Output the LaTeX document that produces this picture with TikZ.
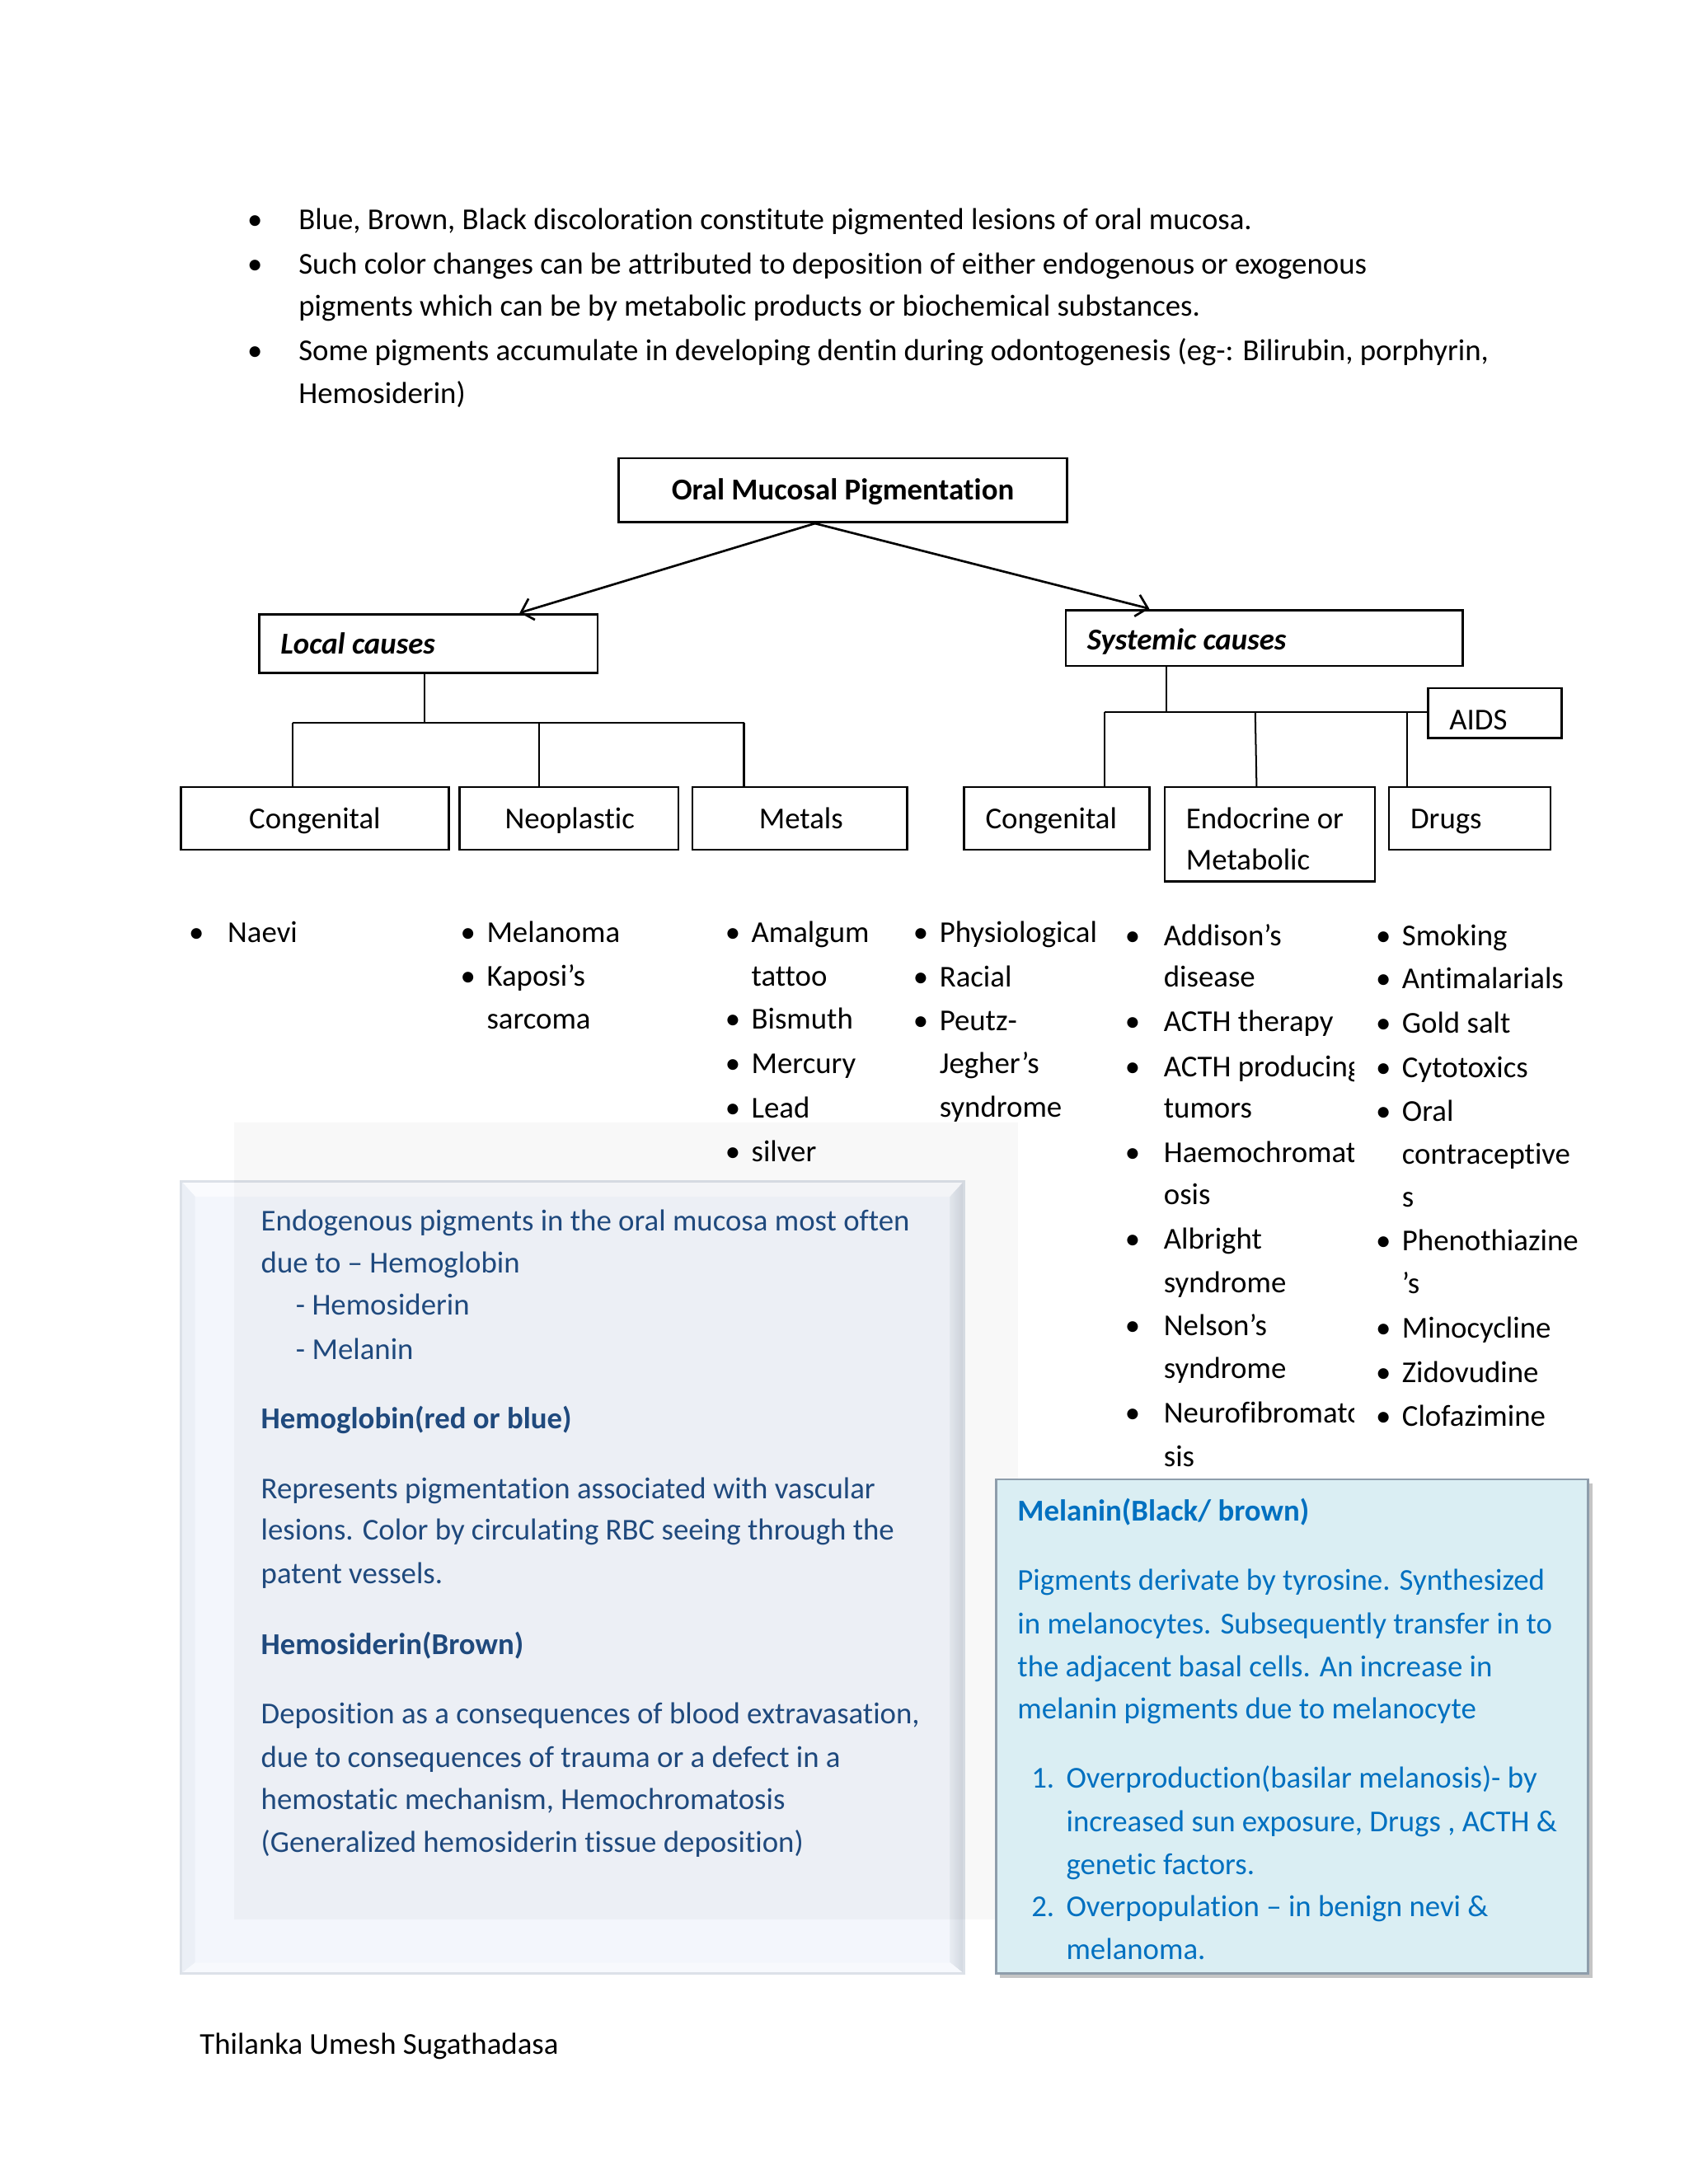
\documentclass[tikz,border=0pt]{standalone}
\usepackage{fontspec}
\setmainfont{Carlito}[RawFeature=-liga]
\usetikzlibrary{arrows.meta,fit}
\definecolor{boxblue}{HTML}{1F497D}
\definecolor{melblue}{HTML}{0070C0}
\definecolor{melfill}{HTML}{DAEEF3}
\definecolor{melline}{HTML}{8E9DAB}
\definecolor{lbfill}{HTML}{F3F6FC}
\definecolor{lbtop}{HTML}{FAFBFE}
\definecolor{lbleft}{HTML}{EBEFF6}
\definecolor{lbbot}{HTML}{F7F9FD}
\definecolor{lbr1}{HTML}{E8ECF2}
\definecolor{lbr2}{HTML}{D0D6DF}
\definecolor{lbedge}{HTML}{DCE1E8}
\newcommand\fs{\fontsize{11}{15.5}\selectfont}
\newcommand\T[4]{\node[txt] (#1) at (#2,#3) {#4};}
\newcommand\B[3]{\node[bul] (#1) at (#2,#3) {•};}
\tikzset{
  txt/.style={anchor=base west, inner sep=0pt, font=\fs, yshift=-0.9pt},
  bul/.style={anchor=base, inner sep=0pt, font=\fs, yshift=-0.9pt},
  boxst/.style={draw, line width=0.8pt, inner sep=0pt},
  conn/.style={line width=0.6pt},
  arr/.style={line width=0.8pt, -{Straight Barb[length=4pt,width=8pt,line width=0.8pt]}},
}
\begin{document}
\begin{tikzpicture}[x=0.50495pt,y=-0.50495pt]
\useasboundingbox (0,0) rectangle (1212,1568);
\fill[white] (0,0) rectangle (1212,1568);
% ---------- intro bullets
\B{b1}{183}{163}\T{t1}{214}{163}{Blue, Brown, Black discoloration constitute pigmented lesions of oral mucosa.}
\B{b2}{183}{195}\T{t2}{214}{195}{Such color changes can be attributed to deposition of either endogenous or exogenous}
\T{t2b}{214}{225}{pigments which can be by metabolic products or biochemical substances.}
\B{b3}{183}{257}\T{t3}{214}{257}{Some pigments accumulate in developing dentin during odontogenesis (eg-: Bilirubin, porphyrin,}
\T{t3b}{214}{288}{Hemosiderin)}
% ---------- diagram boxes
\node[boxst, fit={(444,329)(766,375)}] (root) {};
\node[inner sep=0pt, font=\fs\bfseries, yshift=-0.5pt] (roott) at (root.center) {Oral Mucosal Pigmentation};
\node[boxst, fit={(186,441)(429,483)}] (local) {};
\node[txt, font=\fs\bfseries\itshape] (localt) at (201,468) {Local causes};
\node[boxst, fit={(765,438)(1050,478)}] (sys) {};
\node[txt, font=\fs\bfseries\itshape] (syst) at (780,465) {Systemic causes};
\node[boxst, fit={(130,565)(322,610)}] (cong1) {};
\node[anchor=base, inner sep=0pt, font=\fs, yshift=-0.9pt] (cong1t) at (226,593) {Congenital};
\node[boxst, fit={(330,565)(487,610)}] (neo) {};
\node[anchor=base, inner sep=0pt, font=\fs, yshift=-0.9pt] (neot) at (409,593) {Neoplastic};
\node[boxst, fit={(497,565)(651,610)}] (met) {};
\node[anchor=base, inner sep=0pt, font=\fs, yshift=-0.9pt] (mett) at (575,593) {Metals};
\node[boxst, fit={(692,565)(825,610)}] (cong2) {};
\T{cong2t}{707}{593}{Congenital}
\node[boxst, fit={(836,565)(987,633)}] (endo) {};
\T{endot}{851}{593}{Endocrine or}
\T{endot2}{851}{623}{Metabolic}
\node[boxst, fit={(997,565)(1113,610)}] (drugs) {};
\T{drugst}{1012}{593}{Drugs}
\node[boxst, fit={(1025,494)(1121,530)}] (aids) {};
\T{aidst}{1040}{522}{AIDS}
% ---------- connectors
\coordinate (a0) at (585,375);
\coordinate (aL) at (373,440);
\coordinate (aR) at (825,437);
\draw[arr] (root.south -| a0) -- (aL);
\draw[arr] (root.south -| a0) -- (aR);
\coordinate (lj) at (305,519);
\coordinate (l1) at (210,519);
\coordinate (l2) at (387,519);
\coordinate (l3) at (534,519);
\draw[conn] (local.south -| lj) -- (lj);
\draw[conn] (l1) -- (l3);
\draw[conn] (l1) -- (l1 |- cong1.north);
\draw[conn] (l2) -- (l2 |- neo.north);
\draw[conn] (l3) -- (l3 |- met.north);
\coordinate (sj) at (837,511);
\coordinate (s1) at (793,511);
\coordinate (s2) at (901,511);
\coordinate (s3) at (1010,511);
\draw[conn] (sys.south -| sj) -- (sj);
\draw[conn] (s1) -- (s1 -| aids.west);
\draw[conn] (s1) -- (s1 |- cong2.north);
\draw[conn] (s2) -- (902,565);
\draw[conn] (s3) -- (s3 |- drugs.north);
% ---------- left blue box (bevel)
\fill[lbfill] (130,848) rectangle (692,1417);
\fill[lbtop] (130,848) -- (692,848) -- (682,859) -- (140,859) -- cycle;
\fill[lbleft] (130,848) -- (140,859) -- (140,1409) -- (130,1417) -- cycle;
\shade[left color=lbr1, right color=lbr2] (692,848) -- (692,1417) -- (682,1409) -- (682,859) -- cycle;
\fill[lbbot] (130,1417) -- (140,1409) -- (682,1409) -- (692,1417) -- cycle;
\draw[lbedge, line width=0.8pt] (130,848) rectangle (692,1417);
% light grey overlay
\fill[black, opacity=0.028] (168,806) rectangle (731,1378);
% ---------- right blue box
\fill[gray, opacity=0.45] (718,1065) rectangle (1143,1420);
\draw[fill=melfill, draw=melline, line width=0.8pt] (715,1062) rectangle (1140,1417);
% ---------- column lists
\B{c1b1}{141}{675}\T{c1t1}{163}{675}{Naevi}
\B{c2b1}{336}{675}\T{c2t1}{349}{675}{Melanoma}
\B{c2b2}{336}{706}\T{c2t2}{349}{706}{Kaposi’s}
\T{c2t3}{349}{737}{sarcoma}
\B{c3b1}{526}{675}\T{c3t1}{539}{675}{Amalgum}
\T{c3t2}{539}{706}{tattoo}
\B{c3b3}{526}{737}\T{c3t3}{539}{737}{Bismuth}
\B{c3b4}{526}{769}\T{c3t4}{539}{769}{Mercury}
\B{c3b5}{526}{801}\T{c3t5}{539}{801}{Lead}
\B{c3b6}{526}{832}\T{c3t6}{539}{832}{silver}
\B{c4b1}{661}{675}\T{c4t1}{674}{675}{Physiological}
\B{c4b2}{661}{707}\T{c4t2}{674}{707}{Racial}
\B{c4b3}{661}{738}\T{c4t3}{674}{738}{Peutz-}
\T{c4t4}{674}{769}{Jegher’s}
\T{c4t5}{674}{800}{syndrome}
\begin{scope}
\clip (790,640) rectangle (972,1070);
\B{c5b1}{813}{677}\T{c5t1}{835}{677}{Addison’s}
\T{c5t2}{835}{707}{disease}
\B{c5b3}{813}{739}\T{c5t3}{835}{739}{ACTH therapy}
\B{c5b4}{813}{771}\T{c5t4}{835}{771}{ACTH producing}
\T{c5t5}{835}{801}{tumors}
\B{c5b6}{813}{833}\T{c5t6}{835}{833}{Haemochromat}
\T{c5t7}{835}{863}{osis}
\B{c5b8}{813}{895}\T{c5t8}{835}{895}{Albright}
\T{c5t9}{835}{926}{syndrome}
\B{c5b10}{813}{957}\T{c5t10}{835}{957}{Nelson’s}
\T{c5t11}{835}{988}{syndrome}
\B{c5b12}{813}{1020}\T{c5t12}{835}{1020}{Neurofibromato}
\T{c5t13}{835}{1051}{sis}
\end{scope}
\B{c6b1}{993}{677}\T{c6t1}{1006}{677}{Smoking}
\B{c6b2}{993}{708}\T{c6t2}{1006}{708}{Antimalarials}
\B{c6b3}{993}{740}\T{c6t3}{1006}{740}{Gold salt}
\B{c6b4}{993}{772}\T{c6t4}{1006}{772}{Cytotoxics}
\B{c6b5}{993}{803}\T{c6t5}{1006}{803}{Oral}
\T{c6t6}{1006}{834}{contraceptive}
\T{c6t7}{1006}{865}{s}
\B{c6b8}{993}{896}\T{c6t8}{1006}{896}{Phenothiazine}
\T{c6t9}{1006}{927}{’s}
\B{c6b10}{993}{959}\T{c6t10}{1006}{959}{Minocycline}
\B{c6b11}{993}{991}\T{c6t11}{1006}{991}{Zidovudine}
\B{c6b12}{993}{1022}\T{c6t12}{1006}{1022}{Clofazimine}
% ---------- left box text
\begin{scope}[every node/.append style={text=boxblue}]
\T{e1}{187}{882}{Endogenous pigments in the oral mucosa most often}
\T{e2}{187}{912}{due to – Hemoglobin}
\T{e3}{212}{942}{- Hemosiderin}
\T{e4}{212}{974}{- Melanin}
\node[txt, font=\fs\bfseries] (e5) at (187,1024) {Hemoglobin(red or blue)};
\T{e6}{187}{1074}{Represents pigmentation associated with vascular}
\T{e7}{187}{1104}{lesions. Color by circulating RBC seeing through the}
\T{e8}{187}{1135}{patent vessels.}
\node[txt, font=\fs\bfseries] (e9) at (187,1186) {Hemosiderin(Brown)};
\T{e10}{187}{1236}{Deposition as a consequences of blood extravasation,}
\T{e11}{187}{1267}{due to consequences of trauma or a defect in a}
\T{e12}{187}{1297}{hemostatic mechanism, Hemochromatosis}
\T{e13}{187}{1328}{(Generalized hemosiderin tissue deposition)}
\end{scope}
% ---------- right box text
\begin{scope}[every node/.append style={text=melblue}]
\node[txt, font=\fs\bfseries] (m1) at (730,1090) {Melanin(Black/ brown)};
\T{m2}{730}{1140}{Pigments derivate by tyrosine. Synthesized}
\T{m3}{730}{1171}{in melanocytes. Subsequently transfer in to}
\T{m4}{730}{1202}{the adjacent basal cells. An increase in}
\T{m5}{730}{1232}{melanin pigments due to melanocyte}
\T{m6n}{740}{1282}{1.}
\T{m6}{765}{1282}{Overproduction(basilar melanosis)- by}
\T{m7}{765}{1313}{increased sun exposure, Drugs , ACTH \&}
\T{m8}{765}{1344}{genetic factors.}
\T{m9n}{740}{1374}{2.}
\T{m9}{765}{1374}{Overpopulation – in benign nevi \&}
\T{m10}{765}{1405}{melanoma.}
\end{scope}
% ---------- footer
\T{foot}{143}{1473}{Thilanka Umesh Sugathadasa}
\end{tikzpicture}
\end{document}
